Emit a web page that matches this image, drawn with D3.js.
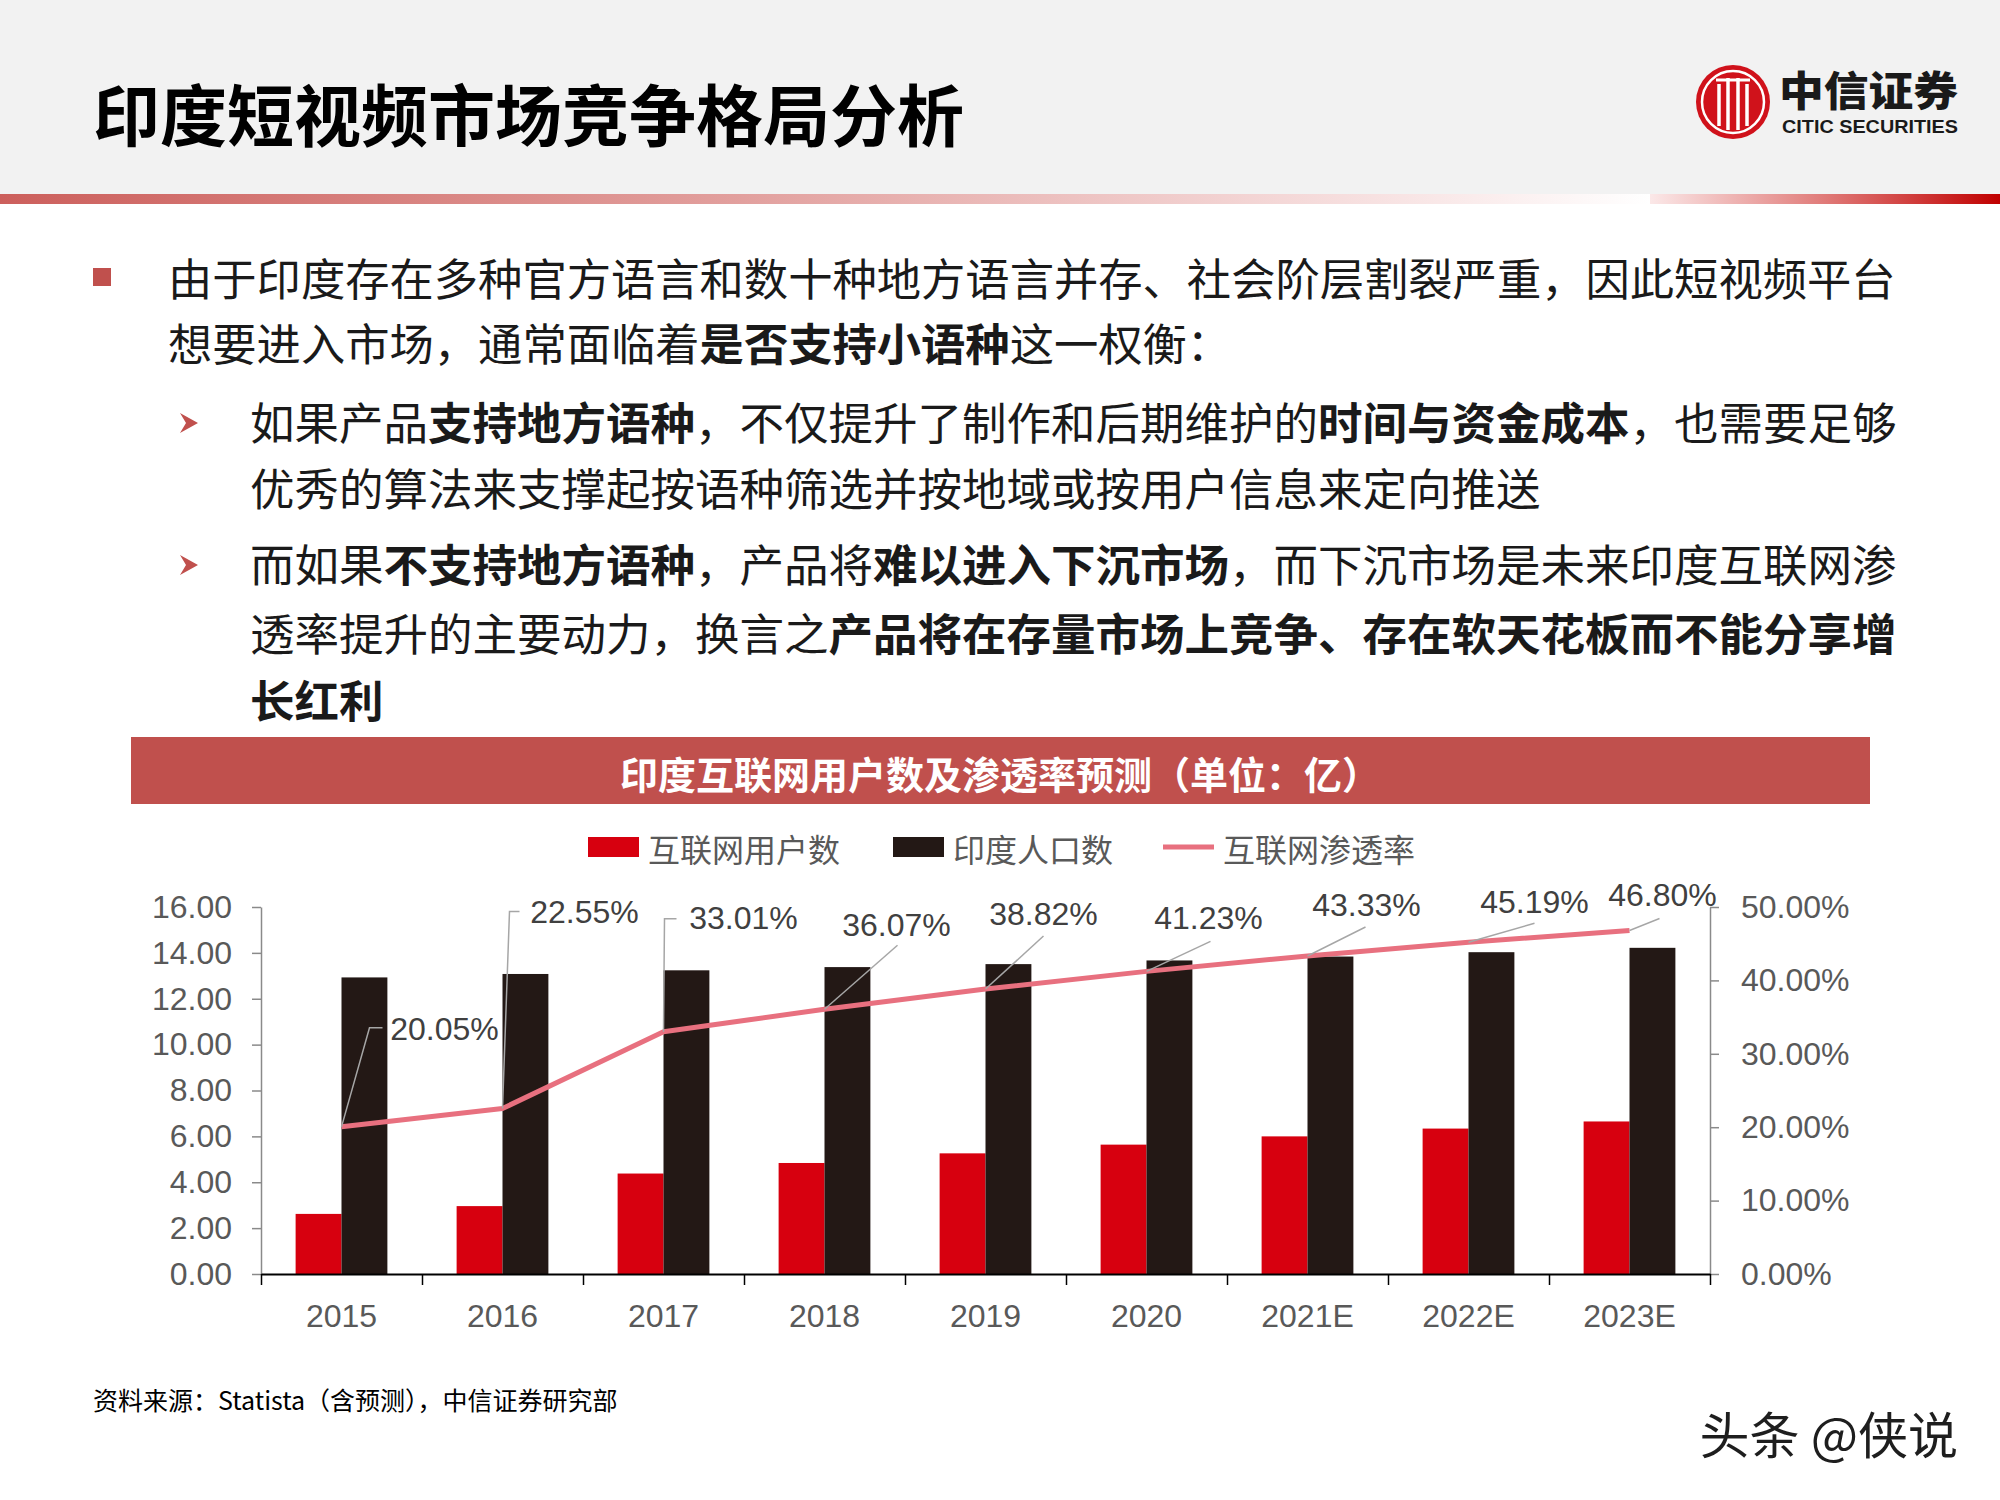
<!DOCTYPE html>
<html>
<head>
<meta charset="utf-8">
<script src="https://cdn.jsdelivr.net/npm/d3@7"></script>
<style>
  body { margin: 0; background: #fff; }
  svg { display: block; }
</style>
</head>
<body>
<div id="page"></div>
<script>
// chart data
var years = ['2015', '2016', '2017', '2018', '2019', '2020', '2021E', '2022E', '2023E'];
var internetUsers = [2.62, 2.96, 4.38, 4.84, 5.26, 5.64, 6.00, 6.34, 6.65];
var population = [12.93, 13.08, 13.24, 13.38, 13.51, 13.67, 13.84, 14.03, 14.22];
var penetration = [20.05, 22.55, 33.01, 36.07, 38.82, 41.23, 43.33, 45.19, 46.80];
var leftTicks = [0, 2, 4, 6, 8, 10, 12, 14, 16];
var rightTicks = [0, 10, 20, 30, 40, 50];
var seriesNames = ['互联网用户数', '印度人口数', '互联网渗透率'];

// where each percentage label sits relative to its point (text centre + leader bends)
var labelLayout = [
    { dx: 103, dy: -98, leader: [[0, 0], [28, -99], [41, -99]] },
    { dx: 82, dy: -196, leader: [[0, 0], [7, -197], [17, -197]] },
    { dx: 80, dy: -114, leader: [[0, 0], [1, -113], [13, -113]] },
    { dx: 72, dy: -84, leader: [[0, 0], [73, -64]] },
    { dx: 58, dy: -75, leader: [[0, 0], [58, -53]] },
    { dx: 62, dy: -53, leader: [[0, 0], [64, -30]] },
    { dx: 59, dy: -51, leader: [[0, 0], [58, -29]] },
    { dx: 66, dy: -40, leader: [[0, 0], [66, -19]] },
    { dx: 33, dy: -35, leader: [[0, 0], [30, -12]] }
];

// slide text
var title = '印度短视频市场竞争格局分析';
var chartTitle = '印度互联网用户数及渗透率预测（单位：亿）';
var source = '资料来源：Statista（含预测），中信证券研究部';
var bullets = [
    { kind: 'main', x: 168, lines: [
        [['由于印度存在多种官方语言和数十种地方语言并存、社会阶层割裂严重，因此短视频平台', false]],
        [['想要进入市场，通常面临着', false], ['是否支持小语种', true], ['这一权衡：', false]]
    ], ys: [277, 342] },
    { kind: 'sub', x: 250, lines: [
        [['如果产品', false], ['支持地方语种', true], ['，不仅提升了制作和后期维护的', false], ['时间与资金成本', true], ['，也需要足够', false]],
        [['优秀的算法来支撑起按语种筛选并按地域或按用户信息来定向推送', false]]
    ], ys: [420, 486] },
    { kind: 'sub', x: 250, lines: [
        [['而如果', false], ['不支持地方语种', true], ['，产品将', false], ['难以进入下沉市场', true], ['，而下沉市场是未来印度互联网渗', false]],
        [['透率提升的主要动力，换言之', false], ['产品将在存量市场上竞争、存在软天花板而不能分享增', true]],
        [['长红利', true]]
    ], ys: [562, 631, 698] }
];

var cjk = '"Noto Sans CJK SC", "Noto Sans", sans-serif';
var latin = '"Liberation Sans", Arial, sans-serif';

var svg = d3.select('#page').append('svg')
    .attr('width', 2000)
    .attr('height', 1500);

var defs = svg.append('defs');
var g1 = defs.append('linearGradient').attr('id', 'barLeft');
g1.append('stop').attr('offset', '0%').attr('stop-color', '#cc5f5c');
g1.append('stop').attr('offset', '45%').attr('stop-color', '#e2a09e');
g1.append('stop').attr('offset', '85%').attr('stop-color', '#f8e4e4');
g1.append('stop').attr('offset', '100%').attr('stop-color', '#ffffff');
var g2 = defs.append('linearGradient').attr('id', 'barRight');
g2.append('stop').attr('offset', '0%').attr('stop-color', '#fbe8e8');
g2.append('stop').attr('offset', '50%').attr('stop-color', '#e07a78');
g2.append('stop').attr('offset', '100%').attr('stop-color', '#c00000');

// header
svg.append('rect').attr('width', 2000).attr('height', 194).attr('fill', '#f2f2f2');
svg.append('rect').attr('x', 0).attr('y', 194).attr('width', 1650).attr('height', 10).attr('fill', 'url(#barLeft)');
svg.append('rect').attr('x', 1650).attr('y', 194).attr('width', 350).attr('height', 10).attr('fill', 'url(#barRight)');

svg.append('text')
    .attr('x', 93).attr('y', 111)
    .attr('dominant-baseline', 'central')
    .style('font-family', cjk).style('font-weight', 700).style('font-size', '67px')
    .attr('fill', '#000')
    .text(title);

// logo
var logo = svg.append('g').attr('transform', 'translate(1733,102)');
logo.append('circle').attr('r', 37).attr('fill', '#d0121b');
logo.append('circle').attr('r', 31).attr('fill', 'none').attr('stroke', '#fff').attr('stroke-width', 2.5);
[-5, 5].forEach(function (d) {
    logo.append('line').attr('x1', d).attr('x2', d).attr('y1', -24).attr('y2', 28)
        .attr('stroke', '#fff').attr('stroke-width', 3.5);
});
[-14, 14].forEach(function (d) {
    logo.append('line').attr('x1', d).attr('x2', d).attr('y1', -18).attr('y2', 24)
        .attr('stroke', '#fff').attr('stroke-width', 3.5);
});
logo.append('line').attr('x1', -17).attr('x2', 17).attr('y1', -22).attr('y2', -22)
    .attr('stroke', '#fff').attr('stroke-width', 3);
svg.append('text')
    .attr('x', 1779).attr('y', 88).attr('dominant-baseline', 'central')
    .attr('textLength', 179).attr('lengthAdjust', 'spacingAndGlyphs')
    .style('font-family', cjk).style('font-weight', 900).style('font-size', '41px')
    .attr('fill', '#1a1a1a').text('中信证券');
svg.append('text')
    .attr('x', 1782).attr('y', 126).attr('dominant-baseline', 'central')
    .attr('textLength', 176).attr('lengthAdjust', 'spacingAndGlyphs')
    .style('font-family', latin).style('font-weight', 700).style('font-size', '19px')
    .attr('fill', '#1a1a1a').text('CITIC SECURITIES');

// bullet text
bullets.forEach(function (b) {
    if (b.kind === 'main') {
        svg.append('rect').attr('x', 93).attr('y', b.ys[0] - 9).attr('width', 18).attr('height', 18)
            .attr('fill', '#c0504d');
    } else {
        var ay = b.ys[0] + 3;
        svg.append('path')
            .attr('d', 'M180,' + (ay - 10) + ' L198,' + ay + ' L180,' + (ay + 10) + ' L186,' + ay + ' Z')
            .attr('fill', '#c0504d');
    }
    b.lines.forEach(function (line, i) {
        var t = svg.append('text')
            .attr('x', b.x).attr('y', b.ys[i])
            .attr('dominant-baseline', 'central')
            .style('font-family', cjk).style('font-size', b.kind === 'main' ? '44.3px' : '44.5px')
            .attr('fill', '#1a1a1a');
        line.forEach(function (seg) {
            t.append('tspan').style('font-weight', seg[1] ? 700 : 400).text(seg[0]);
        });
    });
});

// chart title band
svg.append('rect').attr('x', 131).attr('y', 737).attr('width', 1739).attr('height', 67).attr('fill', '#c0504d');
svg.append('text')
    .attr('x', 1000).attr('y', 772).attr('text-anchor', 'middle').attr('dominant-baseline', 'central')
    .style('font-family', cjk).style('font-weight', 700).style('font-size', '38px')
    .attr('fill', '#fff').text(chartTitle);

// legend
var legendItems = [
    { x: 588, type: 'rect', color: '#d7000f' },
    { x: 893, type: 'rect', color: '#231815' },
    { x: 1163, type: 'line', color: '#e8707f' }
];
legendItems.forEach(function (d, i) {
    if (d.type === 'rect') {
        svg.append('rect').attr('x', d.x).attr('y', 837).attr('width', 51).attr('height', 20).attr('fill', d.color);
    } else {
        svg.append('line').attr('x1', d.x).attr('x2', d.x + 51).attr('y1', 847).attr('y2', 847)
            .attr('stroke', d.color).attr('stroke-width', 5);
    }
    svg.append('text')
        .attr('x', d.x + 60).attr('y', 848).attr('dominant-baseline', 'central')
        .style('font-family', cjk).style('font-size', '32px')
        .attr('fill', '#595959').text(seriesNames[i]);
});

// chart area
var cLeft = 261, cRight = 1710, cTop = 907, cBottom = 1274;

var x = d3.scaleBand().domain(years).range([cLeft, cRight]).paddingInner(0.43).paddingOuter(0.215);
var xEdge = d3.scaleLinear().domain([0, years.length]).range([cLeft, cRight]);
var xSub = d3.scaleBand().domain([0, 1]).range([0, x.bandwidth()]);
var y = d3.scaleLinear().domain([0, 16]).range([cBottom, cTop]);
var yR = d3.scaleLinear().domain([0, 50]).range([cBottom, cTop]);

var chart = svg.append('g');

years.forEach(function (yr, i) {
    chart.append('rect')
        .attr('x', x(yr) + xSub(0)).attr('width', xSub.bandwidth())
        .attr('y', y(internetUsers[i])).attr('height', y(0) - y(internetUsers[i]))
        .attr('fill', '#d7000f');
    chart.append('rect')
        .attr('x', x(yr) + xSub(1)).attr('width', xSub.bandwidth())
        .attr('y', y(population[i])).attr('height', y(0) - y(population[i]))
        .attr('fill', '#231815');
});

var yAxisL = chart.append('g')
    .attr('transform', 'translate(' + cLeft + ',0)')
    .call(d3.axisLeft(y).tickValues(leftTicks).tickFormat(d3.format('.2f')).tickSize(9).tickSizeOuter(0).tickPadding(20));
var yAxisR = chart.append('g')
    .attr('transform', 'translate(' + cRight + ',0)')
    .call(d3.axisRight(yR).tickValues(rightTicks).tickFormat(function (d) { return d3.format('.2f')(d) + '%'; })
        .tickSize(9).tickSizeOuter(0).tickPadding(22));
[yAxisL, yAxisR].forEach(function (a) {
    a.select('.domain').attr('stroke', '#8a8a8a').attr('stroke-width', 1.5);
    a.selectAll('.tick line').attr('stroke', '#8a8a8a').attr('stroke-width', 1.5);
    a.selectAll('text').style('font-family', latin).style('font-size', '32px').attr('fill', '#595959');
});

var xTicks = chart.append('g')
    .attr('transform', 'translate(0,' + cBottom + ')')
    .call(d3.axisBottom(xEdge).tickValues(d3.range(years.length + 1)).tickFormat('').tickSize(11).tickSizeOuter(0));
xTicks.select('.domain').attr('stroke', '#000').attr('stroke-width', 2);
xTicks.selectAll('.tick line').attr('stroke', '#000').attr('stroke-width', 1.5);

var xAxis = chart.append('g')
    .attr('transform', 'translate(0,' + cBottom + ')')
    .call(d3.axisBottom(x).tickSize(0).tickPadding(30));
xAxis.select('.domain').remove();
xAxis.selectAll('text').style('font-family', latin).style('font-size', '32px').attr('fill', '#595959');

// penetration line
var cx = function (i) { return x(years[i]) + x.bandwidth() / 2; };
var line = d3.line()
    .x(function (d, i) { return cx(i); })
    .y(function (d) { return yR(d); });
chart.append('path')
    .datum(penetration)
    .attr('d', line)
    .attr('fill', 'none')
    .attr('stroke', '#e8707f')
    .attr('stroke-width', 5)
    .attr('stroke-linejoin', 'round');

// labels with leader lines
penetration.forEach(function (p, i) {
    var px = cx(i), py = yR(p), lay = labelLayout[i];
    chart.append('path')
        .attr('d', d3.line()(lay.leader.map(function (q) { return [px + q[0], py + q[1]]; })))
        .attr('fill', 'none')
        .attr('stroke', '#a6a6a6')
        .attr('stroke-width', 1.5);
    chart.append('text')
        .attr('x', px + lay.dx).attr('y', py + lay.dy)
        .attr('text-anchor', 'middle').attr('dominant-baseline', 'central')
        .style('font-family', latin).style('font-size', '32px')
        .attr('fill', '#404040')
        .text(p.toFixed(2) + '%');
});

// footer
svg.append('text')
    .attr('x', 93).attr('y', 1399).attr('dominant-baseline', 'central')
    .style('font-family', cjk).style('font-size', '25px')
    .attr('fill', '#000').text(source);
svg.append('text')
    .attr('x', 1958).attr('y', 1432).attr('text-anchor', 'end').attr('dominant-baseline', 'central')
    .style('font-family', cjk).style('font-size', '50px')
    .attr('fill', '#1e1e1e').attr('stroke', '#fff').attr('stroke-width', 2).style('paint-order', 'stroke')
    .text('头条 @侠说');
</script>
</body>
</html>
